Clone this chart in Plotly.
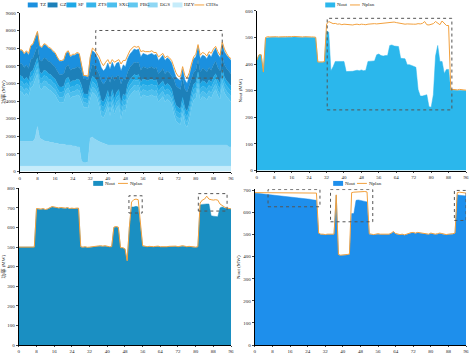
import plotly.graph_objects as go

# ---------------- data ----------------
X = list(range(97))
X_TICKS = [0, 8, 16, 24, 32, 40, 48, 56, 64, 72, 80, 88, 96]

# Top-left: stacked unit outputs (MW)
HZY = [300, 300, 300, 300, 300, 300, 300, 300, 300, 300, 300, 300, 300, 300, 300, 300,
       300, 300, 300, 300, 300, 300, 300, 300, 300, 300, 300, 300, 300, 300, 300, 300,
       300, 300, 300, 300, 300, 300, 300, 300, 300, 300, 300, 300, 300, 300, 300, 300,
       300, 300, 300, 300, 300, 300, 300, 300, 300, 300, 300, 300, 300, 300, 300, 300,
       300, 300, 300, 300, 300, 300, 300, 300, 300, 300, 300, 300, 300, 300, 300, 300,
       300, 300, 300, 300, 300, 300, 300, 300, 300, 300, 300, 300, 300, 300, 300, 300, 300]
DGS = [1400, 1400, 1400, 1400, 1400, 1400, 1400, 1600, 2250, 1600, 1500, 1450, 1400, 1400, 1350, 1350,
       1300, 1300, 1250, 1250, 1250, 1200, 1200, 1200, 1150, 1150, 1100, 1100, 300, 200, 200, 250,
       1600, 1650, 1550, 1450, 1400, 1350, 1300, 1250, 1200, 1200, 1200, 1200, 1200, 1200, 1200, 1200,
       1200, 1200, 1200, 1200, 1200, 1200, 1200, 1200, 1200, 1200, 1200, 1200, 1200, 1200, 1200, 1200,
       1200, 1200, 1200, 1200, 1200, 1200, 1200, 1200, 1200, 1200, 1200, 1200, 1200, 1200, 1200, 1200,
       1200, 1200, 1200, 1200, 1200, 1200, 1200, 1200, 1200, 1200, 1200, 1200, 1200, 1200, 1200, 1100, 1100]
PBG = [2850, 2800, 2600, 2750, 2550, 3050, 3150, 3300, 3000, 2850, 2850, 3100, 3100, 2950, 2950, 2800,
       2750, 2500, 2350, 2350, 2400, 2850, 2950, 2650, 2800, 2800, 2950, 2900, 3400, 3150, 3150, 3050,
       2200, 2550, 2550, 2450, 2050, 1500, 1450, 1750, 2200, 1650, 2250, 1750, 2100, 2250, 1450, 2000,
       1900, 2550, 2800, 2950, 3100, 3050, 3100, 2650, 2850, 2800, 2750, 2800, 2850, 2750, 2800, 2450,
       2600, 2750, 2450, 2600, 2500, 2300, 1750, 1350, 1250, 1150, 1800, 1200, 1000, 1400, 2100, 2550,
       2650, 3250, 2550, 2750, 2700, 2550, 2800, 2650, 2950, 3150, 2800, 2600, 3400, 2950, 2750, 2700, 2550]
SXG = [300, 300, 300, 300, 300, 300, 300, 300, 300, 300, 300, 300, 300, 300, 300, 300,
       300, 300, 300, 300, 300, 300, 300, 300, 300, 300, 300, 300, 300, 250, 250, 250,
       300, 300, 300, 300, 300, 300, 300, 300, 300, 300, 300, 300, 300, 300, 300, 300,
       300, 300, 300, 300, 300, 300, 300, 300, 300, 300, 300, 300, 300, 300, 300, 300,
       300, 300, 300, 300, 300, 300, 300, 300, 300, 300, 300, 300, 300, 300, 300, 300,
       300, 300, 300, 300, 300, 300, 300, 300, 300, 300, 300, 300, 300, 300, 300, 300, 300]
ZTS = [300, 300, 300, 300, 300, 300, 300, 300, 300, 300, 300, 300, 300, 300, 300, 300,
       300, 300, 300, 300, 300, 300, 300, 300, 300, 300, 300, 300, 300, 250, 250, 250,
       300, 300, 300, 300, 300, 300, 300, 300, 300, 300, 300, 300, 300, 300, 300, 300,
       300, 300, 300, 300, 300, 300, 300, 300, 300, 300, 300, 300, 300, 300, 300, 300,
       300, 300, 300, 300, 300, 300, 300, 300, 300, 300, 300, 300, 300, 300, 300, 300,
       300, 300, 300, 300, 300, 300, 300, 300, 300, 300, 300, 300, 300, 300, 300, 300, 300]
SP = [300, 300, 300, 300, 300, 300, 300, 300, 300, 300, 300, 300, 300, 300, 300, 300,
      300, 300, 300, 300, 300, 300, 300, 300, 300, 300, 300, 300, 300, 250, 250, 250,
      300, 300, 300, 300, 300, 300, 300, 300, 300, 300, 300, 300, 300, 300, 300, 300,
      300, 300, 300, 300, 300, 300, 300, 300, 300, 300, 300, 300, 300, 300, 300, 300,
      300, 300, 300, 300, 300, 300, 300, 300, 300, 300, 300, 300, 300, 300, 300, 300,
      300, 300, 300, 300, 300, 300, 300, 300, 300, 300, 300, 300, 300, 300, 300, 300, 300]
GZ = [700, 700, 700, 700, 700, 700, 700, 700, 700, 700, 700, 700, 700, 700, 700, 700,
      700, 700, 700, 700, 700, 700, 700, 700, 700, 700, 700, 700, 800, 850, 850, 850,
      700, 700, 700, 700, 900, 1100, 1000, 900, 800, 1000, 800, 1000, 900, 800, 1100, 900,
      900, 700, 700, 700, 700, 700, 700, 700, 700, 700, 700, 700, 700, 700, 700, 700,
      700, 700, 700, 700, 700, 700, 1100, 1100, 1100, 1100, 1100, 1100, 1100, 1100, 700, 700,
      700, 700, 700, 700, 700, 700, 700, 700, 700, 700, 700, 700, 700, 700, 700, 700, 700]
TZ = [750, 750, 750, 750, 750, 750, 750, 750, 750, 750, 750, 750, 750, 750, 750, 750,
      750, 750, 750, 750, 750, 750, 750, 750, 750, 750, 750, 750, 400, 150, 150, 150,
      750, 750, 750, 750, 750, 750, 750, 750, 750, 750, 750, 750, 750, 750, 750, 750,
      750, 750, 750, 750, 750, 750, 750, 750, 750, 750, 750, 750, 750, 750, 750, 750,
      750, 750, 750, 750, 750, 750, 500, 500, 500, 500, 500, 500, 500, 500, 750, 750,
      750, 750, 750, 750, 750, 750, 750, 750, 750, 750, 750, 750, 750, 750, 750, 750, 750]
CHSA = [6900, 6900, 6700, 6850, 6700, 7150, 7250, 7600, 7950, 7150, 7050, 7250, 7200, 7050, 7000, 6850,
        6750, 6500, 6300, 6300, 6350, 6750, 6850, 6550, 6650, 6650, 6750, 6700, 6150, 5450, 5450, 5400,
        6500, 7000, 6900, 6700, 6500, 6200, 6000, 6200, 6350, 6100, 6350, 6200, 6300, 6350, 6100, 6300,
        6300, 6600, 6850, 7000, 7100, 7050, 7100, 6800, 6850, 6800, 6800, 6800, 6850, 6750, 6750, 6500,
        6600, 6700, 6450, 6550, 6450, 6300, 5950, 5600, 5400, 5400, 5950, 5450, 5300, 5600, 6100, 6500,
        6650, 7200, 6600, 6750, 6700, 6550, 6800, 6700, 6950, 7100, 6800, 6600, 7350, 6950, 6700, 6500, 6400]

# Top-right: Nout / Nplan (MW)
TR_NOUT = [415, 435, 435, 370, 498, 500, 500, 501, 500, 501, 500, 501, 500, 500, 501, 500,
           501, 502, 501, 500, 501, 500, 501, 500, 501, 500, 500, 499, 407, 406, 407, 408,
           525, 520, 375, 390, 410, 410, 410, 410, 410, 372, 372, 373, 373, 375, 377, 375,
           378, 375, 377, 410, 410, 412, 412, 435, 438, 432, 430, 432, 432, 470, 472, 468,
           468, 466, 422, 422, 420, 398, 398, 395, 390, 388, 305, 280, 280, 283, 285, 240,
           238, 285, 430, 470, 410, 410, 365, 380, 380, 302, 303, 302, 301, 302, 301, 301, 300]
TR_NPLAN = [415, 435, 435, 370, 500, 503, 502, 503, 502, 503, 502, 503, 502, 503, 503, 502,
            503, 504, 503, 503, 503, 502, 503, 502, 503, 502, 502, 501, 408, 407, 408, 409,
            550, 560, 555, 552, 553, 550, 551, 548, 550, 549, 550, 548, 547, 549, 550, 548,
            550, 549, 548, 550, 551, 550, 552, 551, 552, 553, 552, 554, 555, 556, 557, 558,
            556, 554, 552, 551, 550, 551, 550, 549, 550, 550, 552, 551, 553, 560, 548, 547,
            550, 552, 560, 555, 548, 562, 555, 545, 545, 303, 305, 304, 303, 305, 303, 303, 302]

# Bottom-left: Nout / Nplan (MW)
BL_NOUT = [500, 500, 500, 500, 500, 500, 500, 500, 695, 693, 692, 695, 690, 693, 700, 705,
           703, 700, 698, 700, 698, 697, 700, 695, 697, 695, 697, 697, 500, 498, 500, 497,
           498, 500, 503, 505, 504, 505, 503, 505, 502, 500, 500, 600, 603, 600, 495, 495,
           490, 428, 600, 705, 705, 708, 705, 605, 505, 503, 500, 502, 500, 500, 502, 503,
           500, 500, 498, 500, 502, 503, 505, 503, 500, 502, 505, 503, 500, 502, 500, 500,
           498, 500, 715, 718, 720, 720, 720, 660, 658, 657, 655, 700, 705, 700, 697, 695, 695]
BL_NPLAN = [500, 500, 500, 500, 500, 500, 500, 500, 697, 695, 694, 697, 692, 695, 702, 707,
            705, 702, 700, 702, 700, 699, 702, 697, 699, 697, 699, 699, 502, 500, 502, 499,
            500, 502, 505, 507, 506, 507, 505, 507, 504, 502, 502, 602, 605, 602, 497, 497,
            492, 430, 602, 730, 742, 745, 742, 607, 507, 505, 502, 504, 502, 502, 504, 505,
            502, 502, 500, 502, 504, 505, 507, 505, 502, 504, 507, 505, 502, 504, 502, 502,
            500, 502, 725, 740, 745, 760, 745, 742, 740, 742, 740, 720, 710, 705, 700, 697, 695]

# Bottom-right: Nout / Nplan (MW)
BR_NOUT = [688, 687, 686, 685, 684, 683, 682, 681, 679, 678, 677, 676, 675, 674, 673, 672,
           670, 669, 668, 667, 666, 665, 663, 662, 661, 660, 658, 657, 655, 505, 500, 500,
           498, 500, 500, 502, 500, 678, 408, 405, 405, 406, 408, 410, 595, 595, 655, 657,
           655, 653, 650, 648, 502, 500, 498, 500, 502, 500, 500, 503, 500, 500, 505, 512,
           503, 500, 498, 500, 497, 500, 505, 507, 508, 505, 508, 507, 503, 505, 502, 500,
           505, 503, 500, 502, 505, 503, 500, 498, 500, 500, 502, 505, 680, 678, 677, 677, 675]
BR_NPLAN = [690, 690, 691, 690, 689, 690, 691, 690, 690, 689, 690, 690, 691, 690, 689, 690,
            690, 689, 690, 690, 691, 690, 689, 690, 690, 689, 690, 690, 688, 507, 502, 502,
            500, 502, 502, 504, 502, 680, 410, 407, 407, 408, 410, 412, 690, 692, 693, 692,
            693, 694, 695, 693, 504, 502, 500, 502, 504, 502, 502, 505, 502, 502, 507, 514,
            505, 502, 500, 502, 499, 502, 507, 509, 510, 507, 510, 509, 505, 507, 504, 502,
            507, 505, 502, 504, 507, 505, 502, 500, 502, 502, 504, 507, 690, 692, 690, 690, 688]

# highlighted regions (x0, x1, y0, y1) per panel
BOX_TL = [(34.5, 92, 5300, 8000)]
BOX_TR = [(32.3, 89.5, 228, 572)]
BOX_BL = [(49.8, 55.8, 674, 762), (81.2, 94.2, 684, 773)]
BOX_BR = [(6.0, 29.6, 626, 704), (34.4, 53.6, 558, 704), (90.7, 96, 564, 700)]

for arr in [HZY, DGS, PBG, SXG, ZTS, SP, GZ, TZ, CHSA, TR_NOUT, TR_NPLAN,
            BL_NOUT, BL_NPLAN, BR_NOUT, BR_NPLAN]:
    assert len(arr) == 97, len(arr)

# ---------------- style ----------------
W, H = 474, 354
FONT = "Liberation Serif, Noto Sans CJK SC, serif"
ORANGE = "#f2a03d"
STACK = [("HZY", HZY, "#c6ecfa"), ("DGS", DGS, "#8fd7f4"), ("PBG", PBG, "#62c8f0"),
         ("SXG", SXG, "#4cbfee"), ("ZTS", ZTS, "#36b4ea"), ("SP", SP, "#1ea8e6"),
         ("GZ", GZ, "#1d80b9"), ("TZ", TZ, "#1b90df")]
TR_COL = "#2bb7ec"
BL_COL = "#1a8fc2"
BR_COL = "#1e8fec"

fig = go.Figure()
for name, vals, col in STACK:
    fig.add_trace(go.Scatter(x=X, y=vals, name=name, stackgroup="tl", mode="lines",
                             line=dict(width=0.5, color=col), fillcolor=col,
                             xaxis="x", yaxis="y", showlegend=False))
fig.add_trace(go.Scatter(x=X, y=CHSA, name="CHSa", mode="lines",
                         line=dict(width=1, color=ORANGE), xaxis="x", yaxis="y", showlegend=False))

panels = [("2", TR_NOUT, TR_NPLAN, TR_COL), ("3", BL_NOUT, BL_NPLAN, BL_COL), ("4", BR_NOUT, BR_NPLAN, BR_COL)]
for k, nout, nplan, col in panels:
    fig.add_trace(go.Scatter(x=X, y=nout, name="Nout", mode="lines", fill="tozeroy",
                             line=dict(width=0.5, color=col), fillcolor=col,
                             xaxis="x" + k, yaxis="y" + k, showlegend=False))
    fig.add_trace(go.Scatter(x=X, y=nplan, name="Nplan", mode="lines",
                             line=dict(width=1, color=ORANGE),
                             xaxis="x" + k, yaxis="y" + k, showlegend=False))


def xax(domain, anchor):
    return dict(domain=domain, anchor=anchor, range=[0, 96], tickvals=X_TICKS,
                showline=True, linecolor="black", linewidth=1, ticks="outside",
                ticklen=1, tickwidth=1, tickfont=dict(size=5, family=FONT, color="#222"),
                showgrid=False, zeroline=False)


def yax(domain, anchor, rng, dtick, title):
    return dict(domain=domain, anchor=anchor, range=rng, dtick=dtick,
                showline=True, linecolor="black", linewidth=1, ticks="outside",
                ticklen=2, tickwidth=1, tickfont=dict(size=5, family=FONT, color="#222"),
                showgrid=False, zeroline=False,
                title=dict(text=title, font=dict(size=5, family=FONT, color="#222"), standoff=2))


def px_x(p):
    return p / W


def px_y(p):
    return 1 - p / H


layout = dict(
    width=W, height=H, margin=dict(l=0, r=0, t=0, b=0), autosize=False,
    paper_bgcolor="white", plot_bgcolor="white", showlegend=False,
    font=dict(family=FONT, size=5, color="#222"),
    xaxis=xax([px_x(19), px_x(232)], "y"),
    yaxis=yax([px_y(172), px_y(11)], "x", [0, 9000], 1000, "功率 (MW)"),
    xaxis2=xax([px_x(258), px_x(469)], "y2"),
    yaxis2=yax([px_y(171), px_y(9)], "x2", [0, 600], 100, "Nout (MW)"),
    xaxis3=xax([px_x(18), px_x(232)], "y3"),
    yaxis3=yax([px_y(348), px_y(189)], "x3", [0, 800], 100, "功率 (MW)"),
    xaxis4=xax([px_x(256), px_x(469)], "y4"),
    yaxis4=yax([px_y(348), px_y(190)], "x4", [0, 705], 100, "Nout (MW)"),
)

shapes = []
for k, boxes in [("", BOX_TL), ("2", BOX_TR), ("3", BOX_BL), ("4", BOX_BR)]:
    for (x0, x1, y0, y1) in boxes:
        shapes.append(dict(type="rect", xref="x" + k, yref="y" + k, x0=x0, x1=x1, y0=y0, y1=y1,
                           line=dict(color="#555", width=1, dash="dot"), fillcolor="rgba(0,0,0,0)"))

annotations = []


def legend_items(items, y_px):
    # items: (left_px, kind, color, label)
    for left, kind, col, label in items:
        if kind == "rect":
            shapes.append(dict(type="rect", xref="paper", yref="paper",
                               x0=px_x(left), x1=px_x(left + 10),
                               y0=px_y(y_px + 2.5), y1=px_y(y_px - 2.5),
                               line=dict(width=0), fillcolor=col))
        else:
            shapes.append(dict(type="line", xref="paper", yref="paper",
                               x0=px_x(left), x1=px_x(left + 10),
                               y0=px_y(y_px), y1=px_y(y_px),
                               line=dict(width=1, color=col)))
        annotations.append(dict(xref="paper", yref="paper", x=px_x(left + 11), y=px_y(y_px),
                                text=label, showarrow=False, xanchor="left", yanchor="middle",
                                borderpad=0, font=dict(size=5, family=FONT, color="#222")))


tl_names = ["TZ", "GZ", "SP", "ZTS", "SXG", "PBG", "DGS", "HZY"]
tl_cols = {n: c for n, _, c in STACK}
tl_left = [27, 47, 66, 86, 107, 128, 148, 173, 195]
items = [(tl_left[i], "rect", tl_cols[n], n) for i, n in enumerate(tl_names)]
items.append((tl_left[8], "line", ORANGE, "CHSa"))
legend_items(items, 3)
legend_items([(327, "rect", TR_COL, "Nout"), (352, "line", ORANGE, "Nplan")], 3)
legend_items([(93, "rect", BL_COL, "Nout"), (118, "line", ORANGE, "Nplan")], 184)
legend_items([(335, "rect", BR_COL, "Nout"), (359, "line", ORANGE, "Nplan")], 184)

layout["shapes"] = shapes
layout["annotations"] = annotations
fig.update_layout(**layout)
fig.write_html("out.html")
